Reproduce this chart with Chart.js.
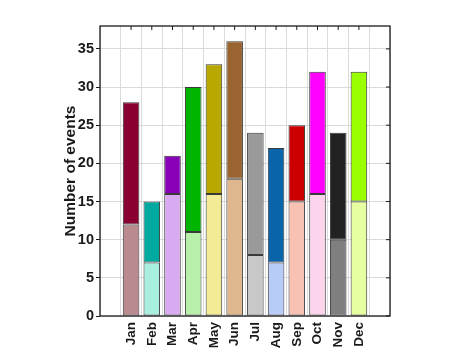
<!DOCTYPE html>
<html>
<head>
<meta charset="utf-8">
<script src="https://cdn.jsdelivr.net/npm/chart.js@4/dist/chart.umd.min.js"></script>
<style>
  html, body { margin: 0; padding: 0; background: #ffffff; }
  #wrap { width: 474px; height: 355px; }
</style>
</head>
<body>
<div id="wrap"><canvas id="c" width="474" height="355"></canvas></div>
<script>
const months = ['Jan','Feb','Mar','Apr','May','Jun','Jul','Aug','Sep','Oct','Nov','Dec'];
const lowerCounts = [12, 7, 16, 11, 16, 18, 8, 7, 15, 16, 10, 15];
const upperCounts = [16, 8, 5, 19, 17, 18, 16, 15, 10, 16, 14, 17];
const lowerColors = ['#b98a8e','#a8efdf','#d8aaf0','#b8efaa','#f3eb96','#dfb78f','#c8c8c8','#b8ccf8','#f8c2b2','#fcd4ec','#7f7f7f','#e6ffa0'];
const upperColors = ['#8a0032','#00aaa0','#8800b8','#00b400','#b8a800','#9a6430','#9a9a9a','#0a64aa','#cc0000','#ff00ff','#222222','#99ff00'];
const yTickValues = [0, 5, 10, 15, 20, 25, 30, 35];

const frame = {
  id: 'frame',
  afterDraw(chart) {
    const ctx = chart.ctx, a = chart.chartArea;
    const xs = chart.scales.x, ys = chart.scales.y;
    ctx.save();
    ctx.strokeStyle = '#1a1a1a';
    ctx.lineWidth = 1.3;
    ctx.strokeRect(a.left, a.top, a.right - a.left, a.bottom - a.top);
    ctx.lineWidth = 1;
    ctx.beginPath();
    months.forEach((m, i) => {
      const px = xs.getPixelForValue(i + 1);
      ctx.moveTo(px, a.top); ctx.lineTo(px, a.top + 4);
    });
    yTickValues.forEach(v => {
      const py = ys.getPixelForValue(v);
      ctx.moveTo(a.right, py); ctx.lineTo(a.right - 4, py);
    });
    ctx.stroke();
    ctx.restore();
  }
};

new Chart(document.getElementById('c'), {
  type: 'bar',
  data: {
    datasets: [
      {
        data: months.map((m, i) => ({ x: i + 1, y: lowerCounts[i] })),
        backgroundColor: lowerColors,
        borderColor: '#3a3a3a',
        borderWidth: 1,
        borderSkipped: false
      },
      {
        data: months.map((m, i) => ({ x: i + 1, y: upperCounts[i] })),
        backgroundColor: upperColors,
        borderColor: '#3a3a3a',
        borderWidth: 1,
        borderSkipped: false
      }
    ]
  },
  options: {
    responsive: false,
    animation: false,
    events: [],
    categoryPercentage: 1.0,
    barPercentage: 0.8,
    layout: { padding: { left: 61, right: 84, top: 26, bottom: 0 } },
    plugins: { legend: { display: false }, tooltip: { enabled: false } },
    scales: {
      x: {
        type: 'linear',
        stacked: true,
        min: 0, max: 13,
        afterFit(s) { s.height = 39; },
        border: { display: false },
        grid: { color: '#dadada', lineWidth: 1, drawTicks: false },
        ticks: {
          stepSize: 1,
          autoSkip: false,
          minRotation: 90, maxRotation: 90,
          padding: 6,
          color: '#1a1a1a',
          font: { family: 'Liberation Sans, Arial, sans-serif', size: 13.5, weight: 'bold' },
          callback: v => months[v - 1] || ''
        }
      },
      y: {
        stacked: true,
        min: 0, max: 38,
        afterFit(s) { s.width = 39; },
        border: { display: false },
        grid: { color: '#dadada', lineWidth: 1, tickLength: 4, tickColor: '#1a1a1a' },
        ticks: {
          stepSize: 5,
          includeBounds: false,
          padding: 2,
          color: '#1a1a1a',
          font: { family: 'Liberation Sans, Arial, sans-serif', size: 14.5, weight: 'bold' },
          callback: v => (v % 5 === 0 ? String(v) : '')
        },
        title: {
          display: true,
          text: 'Number of events',
          color: '#1a1a1a',
          padding: { top: 0, bottom: 0 },
          font: { family: 'Liberation Sans, Arial, sans-serif', size: 15.5, weight: 'bold' }
        }
      }
    }
  },
  plugins: [frame]
});
</script>
</body>
</html>
